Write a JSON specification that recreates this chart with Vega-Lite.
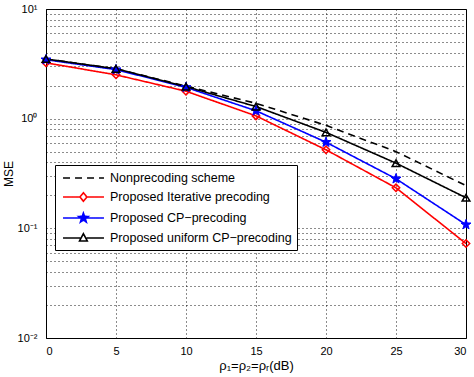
{
  "$schema": "https://vega.github.io/schema/vega-lite/v6.json",
  "width": 420,
  "height": 329,
  "autosize": {"type": "none"},
  "padding": {"left": 46, "top": 9, "right": 8, "bottom": 39},
  "background": "white",
  "config": {
    "view": {"stroke": "black", "strokeWidth": 1},
    "font": "Liberation Sans",
    "axis": {
      "domain": false,
      "grid": true,
      "gridColor": "black",
      "gridDash": [1, 3],
      "gridWidth": 1,
      "gridOpacity": 0.9,
      "ticks": false,
      "labelFont": "Liberation Sans",
      "labelFontSize": 11,
      "labelColor": "black",
      "titleFont": "Liberation Sans",
      "titleFontSize": 12,
      "titleFontWeight": "normal",
      "titleColor": "black"
    }
  },
  "data": {
    "values": [
      {"snr": 0, "series": "Nonprecoding scheme", "mse": 3.5},
      {"snr": 5, "series": "Nonprecoding scheme", "mse": 2.85},
      {"snr": 10, "series": "Nonprecoding scheme", "mse": 1.98},
      {"snr": 15, "series": "Nonprecoding scheme", "mse": 1.38},
      {"snr": 20, "series": "Nonprecoding scheme", "mse": 0.87},
      {"snr": 25, "series": "Nonprecoding scheme", "mse": 0.5},
      {"snr": 30, "series": "Nonprecoding scheme", "mse": 0.245},
      {"snr": 0, "series": "Proposed Iterative precoding", "mse": 3.23},
      {"snr": 5, "series": "Proposed Iterative precoding", "mse": 2.51},
      {"snr": 10, "series": "Proposed Iterative precoding", "mse": 1.78},
      {"snr": 15, "series": "Proposed Iterative precoding", "mse": 1.06},
      {"snr": 20, "series": "Proposed Iterative precoding", "mse": 0.52},
      {"snr": 25, "series": "Proposed Iterative precoding", "mse": 0.234},
      {"snr": 30, "series": "Proposed Iterative precoding", "mse": 0.0726},
      {"snr": 0, "series": "Proposed CP−precoding", "mse": 3.45},
      {"snr": 5, "series": "Proposed CP−precoding", "mse": 2.8},
      {"snr": 10, "series": "Proposed CP−precoding", "mse": 1.93},
      {"snr": 15, "series": "Proposed CP−precoding", "mse": 1.18},
      {"snr": 20, "series": "Proposed CP−precoding", "mse": 0.61},
      {"snr": 25, "series": "Proposed CP−precoding", "mse": 0.283},
      {"snr": 30, "series": "Proposed CP−precoding", "mse": 0.108},
      {"snr": 0, "series": "Proposed uniform CP−precoding", "mse": 3.5},
      {"snr": 5, "series": "Proposed uniform CP−precoding", "mse": 2.85},
      {"snr": 10, "series": "Proposed uniform CP−precoding", "mse": 1.96},
      {"snr": 15, "series": "Proposed uniform CP−precoding", "mse": 1.29},
      {"snr": 20, "series": "Proposed uniform CP−precoding", "mse": 0.75},
      {"snr": 25, "series": "Proposed uniform CP−precoding", "mse": 0.393},
      {"snr": 30, "series": "Proposed uniform CP−precoding", "mse": 0.19}
    ]
  },
  "encoding": {
    "x": {
      "field": "snr",
      "type": "quantitative",
      "scale": {"domain": [0, 30], "nice": false},
      "axis": {"values": [0, 5, 10, 15, 20, 25, 30], "title": "ρ₁=ρ₂=ρᵣ(dB)", "titleFontSize": 13, "labelPadding": 7, "titlePadding": 3}
    },
    "y": {
      "field": "mse",
      "type": "quantitative",
      "scale": {"type": "log", "domain": [0.01, 10], "nice": false},
      "axis": {
        "values": [0.01, 0.02, 0.03, 0.04, 0.05, 0.06, 0.07, 0.08, 0.09, 0.1, 0.2, 0.3, 0.4, 0.5, 0.6, 0.7, 0.8, 0.9, 1, 2, 3, 4, 5, 6, 7, 8, 9, 10],
        "labelExpr": "datum.value == 10 ? '10¹' : datum.value == 1 ? '10⁰' : datum.value == 0.1 ? '10⁻¹' : datum.value == 0.01 ? '10⁻²' : ''",
        "title": "MSE",
        "labelPadding": 9,
        "titlePadding": 2
      }
    }
  },
  "layer": [
    {
      "mark": {"type": "line", "strokeWidth": 1.6},
      "encoding": {
        "color": {
          "field": "series",
          "type": "nominal",
          "scale": {
            "domain": ["Nonprecoding scheme", "Proposed Iterative precoding", "Proposed CP−precoding", "Proposed uniform CP−precoding"],
            "range": ["black", "#ff0000", "#0000ff", "black"]
          },
          "legend": {
            "title": null,
            "orient": "none",
            "legendX": 9,
            "legendY": 156,
            "direction": "vertical",
            "fillColor": "white",
            "strokeColor": "black",
            "padding": 5,
            "labelFont": "Liberation Sans",
            "labelFontSize": 12.5,
            "labelColor": "black",
            "labelLimit": 400,
            "labelOffset": 34,
            "symbolSize": 196,
            "rowPadding": 4,
            "encode": {
              "symbols": {
                "update": {
                  "shape": {"signal": "datum.value == 'Nonprecoding scheme' ? 'M-0.71,0H5.14' : datum.value == 'Proposed Iterative precoding' ? 'M-0.71,0H1.7M2.7,0H5.14M2.2,-0.6L2.7,0L2.2,0.6L1.7,0Z' : datum.value == 'Proposed CP−precoding' ? 'M-0.71,0H5.14M2.2,-0.71L2.371,-0.236L2.875,-0.22L2.478,0.09L2.617,0.575L2.2,0.29L1.783,0.575L1.922,0.09L1.525,-0.22L2.029,-0.236Z' : 'M-0.71,0H1.75M2.65,0H5.14M2.2,-0.62L2.75,0.42L1.65,0.42Z'"},
                  "fill": {"signal": "datum.value == 'Proposed CP−precoding' ? '#0000ff' : 'transparent'"},
                  "strokeDash": {"signal": "datum.value == 'Nonprecoding scheme' ? [7, 5] : [1, 0]"},
                  "strokeWidth": {"value": 1.6},
                  "opacity": {"value": 1}
                }
              }
            }
          }
        },
        "strokeDash": {
          "field": "series",
          "type": "nominal",
          "scale": {
            "domain": ["Nonprecoding scheme", "Proposed Iterative precoding", "Proposed CP−precoding", "Proposed uniform CP−precoding"],
            "range": [[7, 5], [1, 0], [1, 0], [1, 0]]
          },
          "legend": null
        }
      }
    },
    {
      "transform": [{"filter": "datum.series == 'Proposed Iterative precoding'"}],
      "mark": {"type": "point", "shape": "diamond", "filled": false, "stroke": "#ff0000", "strokeWidth": 1.5, "size": 55, "opacity": 1}
    },
    {
      "transform": [{"filter": "datum.series == 'Proposed CP−precoding'"}],
      "mark": {"type": "point", "shape": "M0,-1L0.24,-0.33L0.95,-0.31L0.39,0.13L0.59,0.81L0,0.41L-0.59,0.81L-0.39,0.13L-0.95,-0.31L-0.24,-0.33Z", "filled": true, "fill": "#0000ff", "stroke": "#0000ff", "strokeWidth": 1, "size": 110, "opacity": 1}
    },
    {
      "transform": [{"filter": "datum.series == 'Proposed uniform CP−precoding'"}],
      "mark": {"type": "point", "shape": "triangle-up", "filled": false, "stroke": "black", "strokeWidth": 1.5, "size": 60, "opacity": 1}
    }
  ]
}
